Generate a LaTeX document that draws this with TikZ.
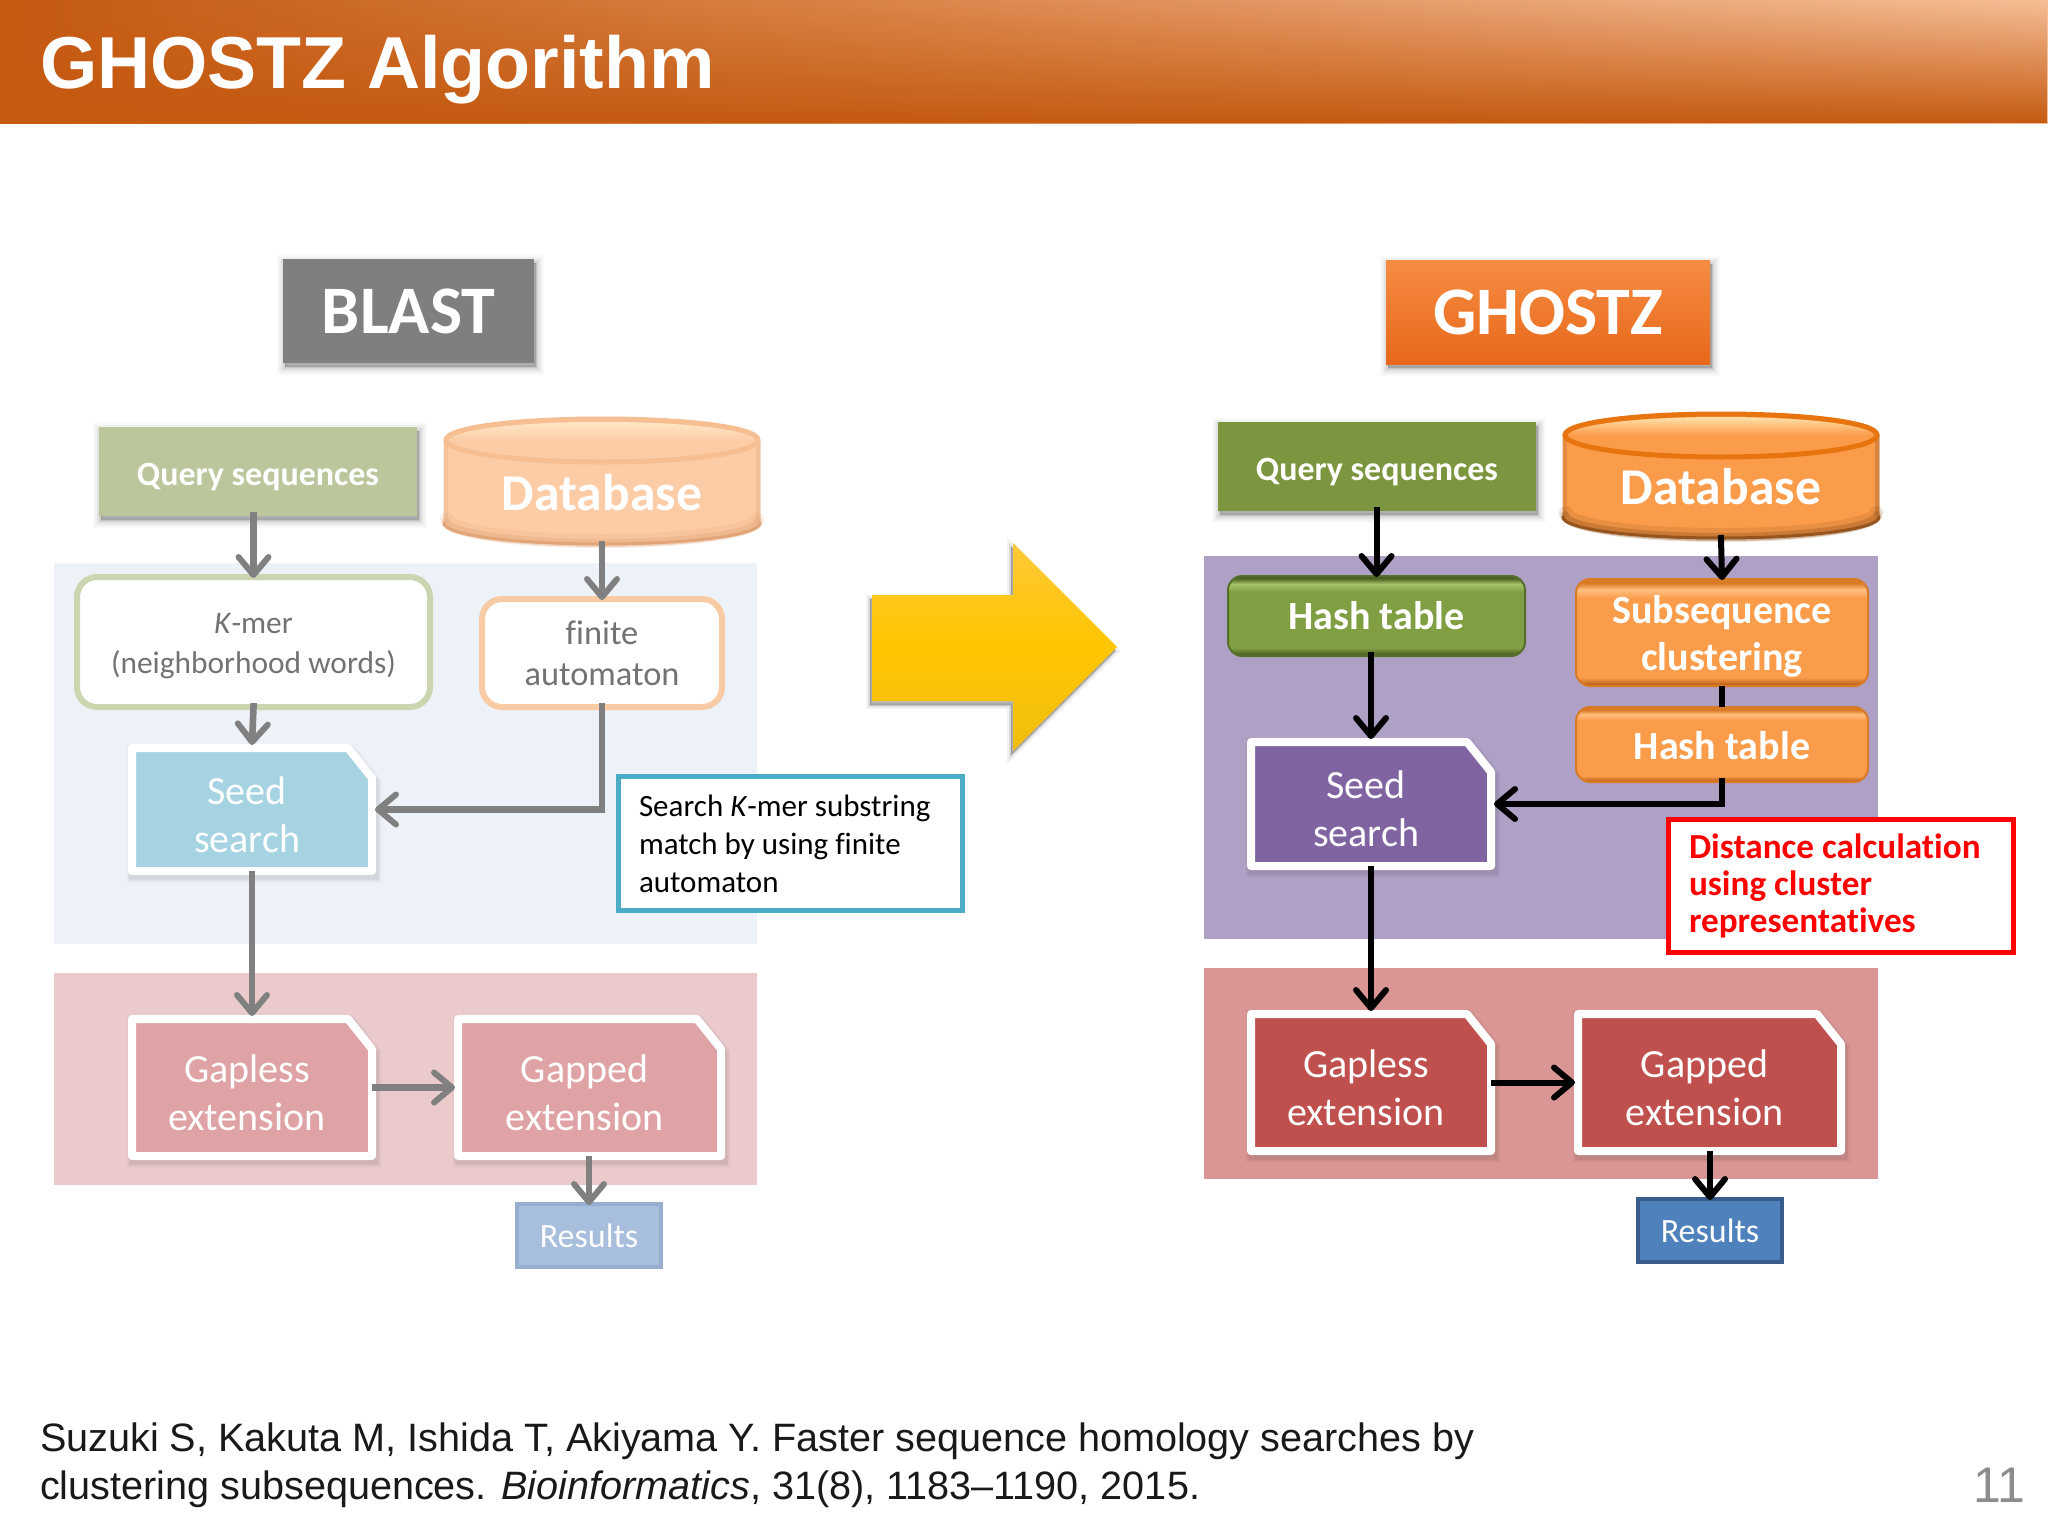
\documentclass[tikz,border=0pt]{standalone}
\usepackage{fontspec}
\setmainfont[Ligatures=NoCommon]{Carlito}
\newfontfamily\arialf{Liberation Sans}
\usetikzlibrary{arrows.meta,fadings}
\newcommand\dn[2]{\raisebox{-#1}[\height][\depth]{#2}}
\definecolor{hdrA}{HTML}{C55A11}
\definecolor{hdrB}{HTML}{F6BE96}
\definecolor{gD}{HTML}{3F5020}
\definecolor{gE}{HTML}{55702A}
\definecolor{gM}{HTML}{7F9F42}
\definecolor{gL}{HTML}{A8C468}
\definecolor{oD}{HTML}{B0560F}
\definecolor{oE}{HTML}{D97A25}
\definecolor{oM}{HTML}{FB9C4B}
\definecolor{oL}{HTML}{FFC080}
\definecolor{panelBlue}{HTML}{EDF1F8}
\definecolor{panelPink}{HTML}{EBCACC}
\definecolor{panelPurple}{HTML}{AFA0C6}
\definecolor{panelRose}{HTML}{D99694}
\definecolor{tGrey}{HTML}{7F7F7F}
\definecolor{tOrA}{HTML}{F58C42}
\definecolor{tOrB}{HTML}{E8681A}
\definecolor{qPale}{HTML}{BBC69C}
\definecolor{qDeep}{HTML}{7B963E}
\definecolor{dbLrim}{HTML}{F6BE91}
\definecolor{dbLface}{HTML}{FCCCA6}
\definecolor{dbLlight}{HTML}{FFE8C8}
\definecolor{dbLdark}{HTML}{E1A578}
\definecolor{dbRrim}{HTML}{E87410}
\definecolor{dbRlight}{HTML}{FFE1AA}
\definecolor{dbRdark}{HTML}{96551E}
\definecolor{kBorder}{HTML}{CBD6B0}
\definecolor{faBorder}{HTML}{F9CBA5}
\definecolor{seedPale}{HTML}{A5D3E2}
\definecolor{seedDeep}{HTML}{8064A2}
\definecolor{gapPale}{HTML}{DFA3A5}
\definecolor{gapDeep}{HTML}{C0504D}
\definecolor{cbTeal}{HTML}{4BACC6}
\definecolor{resPale}{HTML}{A7BEDD}
\definecolor{resPaleB}{HTML}{98AED0}
\definecolor{resDeep}{HTML}{4F81BD}
\definecolor{resDeepB}{HTML}{385D8A}
\definecolor{arA}{HTML}{FFC838}
\definecolor{arB}{HTML}{FFC600}
\definecolor{arC}{HTML}{F0BE10}
\pgfdeclareverticalshading{bevelg}{100bp}{color(0bp)=(gD);color(25bp)=(gD);color(30bp)=(gM);color(65bp)=(gM);color(70bp)=(gL);color(73bp)=(gE);color(75bp)=(gD);color(100bp)=(gD)}
\pgfdeclareverticalshading{bevelo}{100bp}{color(0bp)=(oD);color(25bp)=(oD);color(29bp)=(oM);color(66bp)=(oM);color(70bp)=(oL);color(73bp)=(oE);color(75bp)=(oE);color(100bp)=(oE)}
\tikzset{
  x=0.5pt,y=-0.5pt,
  every node/.style={inner sep=0pt,outer sep=0pt,align=center},
  shadowlayer/.style n args={3}{preaction={draw=black,fill=black,opacity=#3,line width=#2,transform canvas={shift={(#1)}}}},
  softshadow/.style={shadowlayer={1pt,-2pt}{8pt}{.025},shadowlayer={1pt,-2pt}{6pt}{.035},shadowlayer={1pt,-2pt}{4pt}{.05},shadowlayer={1pt,-2pt}{2pt}{.06},shadowlayer={1pt,-2pt}{.5pt}{.07}},
  arrowshadow/.style={shadowlayer={-1pt,-2pt}{4pt}{.05},shadowlayer={-1pt,-2pt}{2pt}{.08},shadowlayer={-1pt,-2pt}{.5pt}{.12}},
  title box/.style={softshadow,text=white,font=\fontsize{34}{40}\selectfont\bfseries},
  query/.style={softshadow,text=white,font=\fontsize{17}{20}\selectfont\bfseries},
  outline box/.style={draw=#1,fill=white,line width=3pt,rounded corners=10pt,text=black!55,font=\fontsize{15.7}{20}\selectfont},
  bevel/.style={shade,shading=bevel#1,draw=#1E,line width=1pt,rounded corners=7pt,text=white,font=\fontsize{20}{23.5}\selectfont\bfseries},
  result/.style={fill=#1,text=white,font=\fontsize{17}{20}\selectfont},
  callout/.style={fill=white,draw=#1,line width=2.5pt},
  greyarrow/.style={draw=black!50,line width=3.3pt,shorten <=-2pt,shorten >=-.5pt,-{Straight Barb[length=9pt,width=15pt,line width=3pt,round]}},
  blackarrow/.style={draw=black,line width=3pt,shorten <=-2pt,shorten >=-.5pt,-{Straight Barb[length=9pt,width=15pt,line width=3pt,round]}},
  snipface/.style={fill=#1,draw=white,line width=4pt,line join=round,shadowlayer={1pt,-2pt}{7.5pt}{.025},shadowlayer={1pt,-2pt}{6pt}{.035},shadowlayer={1pt,-2pt}{4.5pt}{.05}},
  sniptext/.style={text=white,font=\fontsize{20}{24}\selectfont,xshift=-2.5pt,yshift=-2.5pt},
}
% style, name, x1,y1,x2,y2, text
\newcommand\bx[7]{\node[#1,minimum width={(#5-#3)*0.5pt},minimum height={(#6-#4)*0.5pt}] (#2) at ({(#3+#5)/2},{(#4+#6)/2}) {#7};}
% colour, name, x1,y1,x2,y2, text
\newcommand\snip[7]{%
  \path[snipface=#1] (#3+4,#4+4) -- (#5-28,#4+4) -- (#5-4,#4+34) -- (#5-4,#6-4) -- (#3+4,#6-4) -- cycle;
  \node[minimum width={(#5-#3)*0.5pt},minimum height={(#6-#4)*0.5pt},label={[sniptext]center:{#7}}] (#2) at ({(#3+#5)/2},{(#4+#6)/2}) {};}
% name, x1,y1,x2,y2, rim, face, light, dark
\newcommand\cyl[9]{%
  \pgfmathsetmacro\cxm{(#2+#4)/2}\pgfmathsetmacro\rxm{(#4-#2)/2}
  \pgfmathsetmacro\kx{0.5523*\rxm}\pgfmathsetmacro\ry{22}\pgfmathsetmacro\ky{0.5523*\ry}
  \pgfmathsetmacro\yt{#3+\ry}\pgfmathsetmacro\yb{#5-\ry}
  \pgfmathsetmacro\xa{\cxm-\kx}\pgfmathsetmacro\xb{\cxm+\kx}
  \pgfmathsetmacro\yta{\yt-\ky}\pgfmathsetmacro\ytb{\yt+\ky}\pgfmathsetmacro\yba{\yb+\ky}
  \fill[#7] (#2,\yt) -- (#2,\yb) .. controls (#2,\yba) and (\xa,#5) .. (\cxm,#5) .. controls (\xb,#5) and (#4,\yba) .. (#4,\yb) -- (#4,\yt) .. controls (#4,\yta) and (\xb,#3) .. (\cxm,#3) .. controls (\xa,#3) and (#2,\yta) .. (#2,\yt) -- cycle;
  \draw[#9,line width=7pt,opacity=.18,line cap=round] (#2+3,\yb-4) .. controls (#2+3,\yba-4) and (\xa,#5-4) .. (\cxm,#5-4) .. controls (\xb,#5-4) and (#4-3,\yba-4) .. (#4-3,\yb-4);
  \draw[#9,line width=4pt,opacity=.35,line cap=round] (#2+2,\yb-2) .. controls (#2+2,\yba-2) and (\xa,#5-2) .. (\cxm,#5-2) .. controls (\xb,#5-2) and (#4-2,\yba-2) .. (#4-2,\yb-2);
  \draw[#9,line width=1.5pt,line cap=round] (#2,\yb) .. controls (#2,\yba) and (\xa,#5-1) .. (\cxm,#5-1) .. controls (\xb,#5-1) and (#4,\yba) .. (#4,\yb);
  \draw[#9,line width=2.5pt,opacity=.35] (#4-1.5,\yt) -- (#4-1.5,\yb);
  \draw[#9,line width=2.5pt,opacity=.2] (#2+1.5,\yt) -- (#2+1.5,\yb);
  \path[top color=#8,bottom color=#7,middle color=#7] (\cxm,\yt) ellipse [x radius=\rxm*0.5pt-3pt,y radius=\ry*0.5pt-2pt];
  \draw[#6,line width=2.5pt] (#2+2,\yt) .. controls (#2+2,\ytb) and (\xa,\yt+\ry) .. (\cxm,\yt+\ry) .. controls (\xb,\yt+\ry) and (#4-2,\ytb) .. (#4-2,\yt) .. controls (#4-2,\yta) and (\xb,#3+1) .. (\cxm,#3+1) .. controls (\xa,#3+1) and (#2+2,\yta) .. cycle;
  \node[minimum width={(#4-#2)*0.5pt},minimum height={(#5-#3)*0.5pt}] (#1) at ({(#2+#4)/2},{(#3+#5)/2}) {};}
\begin{document}
\begin{tikzpicture}
\useasboundingbox (0,0) rectangle (2048,1536);
\fill[white] (0,0) rectangle (2048,1536);
% header
\shade[left color=hdrA,right color=hdrB] (0,0) rectangle (2048,123);
\fill[hdrA,path fading=north] (0,0) rectangle (2048,123);
\node[anchor=base west,text=white,font=\arialf\fontsize{36.8}{44}\selectfont\bfseries] (title) at (40,89) {GHOSTZ Algorithm};
% panels
\fill[panelBlue] (54,563) rectangle (757,944);
\fill[panelPink] (54,973) rectangle (757,1185);
\fill[panelPurple] (1204,556) rectangle (1878,939);
\fill[panelRose] (1204,968) rectangle (1878,1179);
% titles
\bx{title box,fill=tGrey}{blast}{283}{259}{534}{363}{BLAST}
\bx{title box,top color=tOrA,bottom color=tOrB}{ghostz}{1386}{260}{1710}{364}{GHOSTZ}
% BLAST side
\bx{query,fill=qPale}{qL}{99}{427}{417}{516}{\dn{2.6pt}{Query sequences}}
\cyl{dbL}{444}{418}{760}{545}{dbLrim}{dbLface}{dbLlight}{dbLdark}
\node[text=white,font=\fontsize{25.8}{30}\selectfont\bfseries] (dbLt) at (602,493) {Database};
\bx{outline box=kBorder}{kL}{77}{577}{430}{707}{\dn{2.3pt}{\textit{K}-mer}\\\dn{2.3pt}{(neighborhood words)}}
\bx{outline box=faBorder,font=\fontsize{17.2}{20.5}\selectfont}{fa}{482}{599}{722}{707}{finite\\automaton}
\snip{seedPale}{sL}{128}{744}{376}{875}{Seed\\search}
\bx{callout=cbTeal}{cbL}{618}{776}{962}{910}{}
\node[anchor=west,align=left,text=black,font=\fontsize{15.5}{19}\selectfont] (cbLt) at (639,844) {Search \textit{K}-mer substring\\match by using finite\\automaton};
\snip{gapPale}{gsL}{128}{1015}{376}{1160}{Gapless\\extension}
\snip{gapPale}{gdL}{454}{1015}{725}{1160}{Gapped\\extension}
\bx{result=resPale,draw=resPaleB,line width=2pt}{rL}{517}{1204}{661}{1267}{Results}
\draw[greyarrow] (kL.north |- qL.south) -- (kL.north);
\draw[greyarrow] (dbL.south) -- (fa.north);
\draw[greyarrow] (kL.south) -- (sL.north);
\draw[greyarrow] (fa.south) |- (sL.east);
\draw[greyarrow] (sL.south) -- (gsL.north);
\draw[greyarrow] (gsL.east) -- (gdL.west);
\draw[greyarrow] (rL.north |- gdL.south) -- (rL.north);
% big arrow
\path[top color=arA,bottom color=arC,middle color=arB,arrowshadow] (872,595) -- (1013,595) -- (1013,543) -- (1117,647) -- (1013,751) -- (1013,701) -- (872,701) -- cycle;
% GHOSTZ side
\bx{query,fill=qDeep}{qR}{1218}{422}{1536}{511}{\dn{2.6pt}{Query sequences}}
\cyl{dbR}{1563}{413}{1879}{539}{dbRrim}{oM}{dbRlight}{dbRdark}
\node[text=white,font=\fontsize{25.8}{30}\selectfont\bfseries] (dbRt) at (1721,487) {Database};
\bx{bevel=g}{hL}{1228}{576}{1525}{656}{Hash table}
\bx{bevel=o}{sub}{1576}{579}{1868}{686}{\dn{2pt}{Subsequence}\\\dn{2pt}{clustering}}
\bx{bevel=o}{hR}{1576}{707}{1868}{782}{\dn{.6pt}{Hash table}}
\snip{seedDeep}{sR}{1247}{738}{1495}{870}{Seed\\search}
\snip{gapDeep}{gsR}{1247}{1010}{1495}{1155}{Gapless\\extension}
\snip{gapDeep}{gdR}{1574}{1010}{1845}{1155}{Gapped\\extension}
\bx{result=resDeep,draw=resDeepB,line width=2pt}{rR}{1638}{1199}{1782}{1262}{Results}
\bx{callout=red}{cbR}{1668}{819}{2013}{952}{}
\node[anchor=west,align=left,text=red,font=\fontsize{17.6}{18.5}\selectfont\bfseries] (cbRt) at (1689,886) {Distance calculation\\using cluster\\representatives};
\draw[blackarrow] (hL.north |- qR.south) -- (hL.north);
\draw[blackarrow] (dbR.south) -- (sub.north);
\draw[blackarrow] (sR.north |- hL.south) -- (sR.north);
\draw[draw=black,line width=3pt] (sub.south) -- (hR.north);
\draw[blackarrow] (hR.south) |- (sR.east);
\draw[blackarrow] (sR.south) -- (gsR.north);
\draw[blackarrow] (gsR.east) -- (gdR.west);
\draw[blackarrow] (rR.north |- gdR.south) -- (rR.north);
% citation
\node[anchor=west,align=left,text=black!90,font=\arialf\fontsize{19.8}{24}\selectfont] (cite) at (40,1465) {Suzuki S, Kakuta M, Ishida T, Akiyama Y. Faster sequence homology searches by\\clustering subsequences. \textit{Bioinformatics}, 31(8), 1183–1190, 2015.};
\node[anchor=east,text=black!45,font=\arialf\fontsize{25}{30}\selectfont] (pg) at (2025,1485) {11};
\end{tikzpicture}
\end{document}
